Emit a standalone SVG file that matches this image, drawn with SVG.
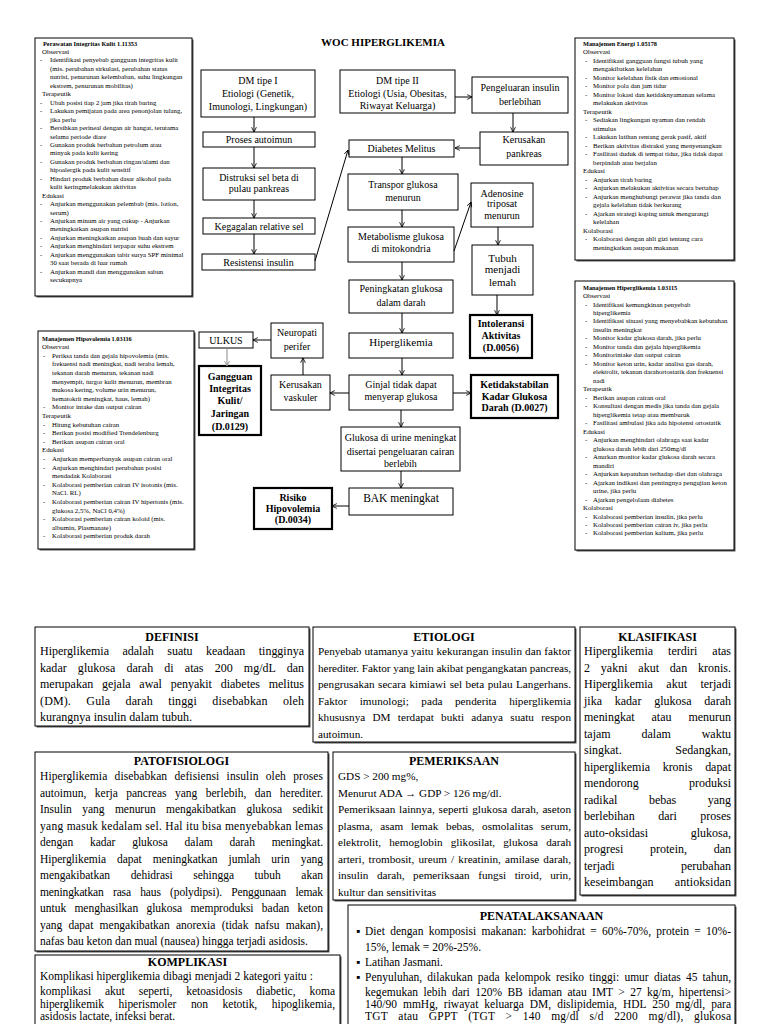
<svg xmlns="http://www.w3.org/2000/svg" width="768" height="1024" viewBox="0 0 768 1024">
<defs>
<style>
text{font-family:"Liberation Serif","Times New Roman","DejaVu Serif",serif;fill:#000}
.ti{font-size:11px;font-weight:bold;text-anchor:middle}
.s{font-size:6.8px}
.sh{font-size:6.3px;font-weight:bold}
.f{font-size:10px;text-anchor:middle}
.fl{font-size:11px;text-anchor:middle}
.fb{font-size:10px;font-weight:bold;text-anchor:middle}
.b{font-size:11.5px}
.m{font-size:11.2px}
.b12{font-size:12px}
.h{font-size:12px;font-weight:bold;text-anchor:middle}
.e{text-anchor:end}
.nb{fill:#fff;stroke:#000;stroke-width:1}
.tb{fill:#fff;stroke:#000;stroke-width:2.2}
.sd{fill:#555}
.c{fill:none;stroke:#000;stroke-width:1;marker-end:url(#ah)}
.cg{fill:none;stroke:#888;stroke-width:1;marker-end:url(#ahg)}
</style>
<marker id="ah" viewBox="0 0 10 10" refX="9" refY="5" markerWidth="6" markerHeight="6" markerUnits="userSpaceOnUse" orient="auto">
<path d="M1,1 L9,5 L1,9" fill="none" stroke="#000" stroke-width="1.4"/>
</marker>
<marker id="ahg" viewBox="0 0 10 10" refX="9" refY="5" markerWidth="6" markerHeight="6" markerUnits="userSpaceOnUse" orient="auto">
<path d="M1,1 L9,5 L1,9" fill="none" stroke="#888" stroke-width="1.4"/>
</marker>
</defs>
<rect width="768" height="1024" fill="#fff"/>
<text class="ti" x="383" y="46">WOC HIPERGLIKEMIA</text>

<g id="perawatan-kulit">
<rect class="sd" x="36.5" y="39.5" width="157" height="258"/>
<rect class="nb" x="35" y="38" width="157" height="258"/>
<text class="sh" x="43" y="45.5">Perawatan Integritas Kulit 1.11353</text>
<text class="s" x="42" y="54">Observasi</text>
<text class="s" y="62.4"><tspan x="40">-</tspan><tspan x="50">Identifikasi penyebab gangguan integritas kulit</tspan></text>
<text class="s" x="50" y="70.9">(mis. perubahan sirkulasi, perubahan status</text>
<text class="s" x="50" y="79.3">nutrisi, penurunan kelembaban, suhu lingkungan</text>
<text class="s" x="50" y="87.8">ekstrem, penurunan mobilitas)</text>
<text class="s" x="42" y="96.2">Terapeutik</text>
<text class="s" y="104.7"><tspan x="40">-</tspan><tspan x="50">Ubah posisi tiap 2 jam jika tirah baring</tspan></text>
<text class="s" y="113.1"><tspan x="40">-</tspan><tspan x="50">Lakukan pemijatan pada area penonjolan tulang,</tspan></text>
<text class="s" x="50" y="121.6">jika perlu</text>
<text class="s" y="130"><tspan x="40">-</tspan><tspan x="50">Bersihkan perineal dengan air hangat, terutama</tspan></text>
<text class="s" x="50" y="138.5">selama periode diare</text>
<text class="s" y="146.9"><tspan x="40">-</tspan><tspan x="50">Gunakan produk berbahan petrolum atau</tspan></text>
<text class="s" x="50" y="155.4">minyak pada kulit kering</text>
<text class="s" y="163.8"><tspan x="40">-</tspan><tspan x="50">Gunakan produk berbahan ringan/alami dan</tspan></text>
<text class="s" x="50" y="172.3">hipoalergik pada kulit sensitif</text>
<text class="s" y="180.7"><tspan x="40">-</tspan><tspan x="50">Hindari produk berbahan dasar alkohol pada</tspan></text>
<text class="s" x="50" y="189.2">kulit keringmelakukan aktivitas</text>
<text class="s" x="42" y="197.6">Edukasi</text>
<text class="s" y="206.1"><tspan x="40">-</tspan><tspan x="50">Anjurkan menggunakan pelembab (mis. lotion,</tspan></text>
<text class="s" x="50" y="214.5">serum)</text>
<text class="s" y="223"><tspan x="40">-</tspan><tspan x="50">Anjurkan minum air yang cukup - Anjurkan</tspan></text>
<text class="s" x="50" y="231.4">meningkatkan asupan nutrisi</text>
<text class="s" y="239.9"><tspan x="40">-</tspan><tspan x="50">Anjurkan meningkatkan asupan buah dan sayur</tspan></text>
<text class="s" y="248.3"><tspan x="40">-</tspan><tspan x="50">Anjurkan menghindari terpapar suhu ekstrem</tspan></text>
<text class="s" y="256.8"><tspan x="40">-</tspan><tspan x="50">Anjurkan menggunakan tabir surya SPF minimal</tspan></text>
<text class="s" x="50" y="265.2">30 saat berada di luar rumah</text>
<text class="s" y="273.7"><tspan x="40">-</tspan><tspan x="50">Anjurkan mandi dan menggunakan sabun</tspan></text>
<text class="s" x="50" y="282.1">secukupnya</text>
</g>

<g id="manajemen-energi">
<rect class="sd" x="576.5" y="39.5" width="159" height="222"/>
<rect class="nb" x="575" y="38" width="159" height="222"/>
<text class="sh" x="583" y="45.5">Manajemen Energi 1.05178</text>
<text class="s" x="583" y="54">Observasi</text>
<text class="s" y="62.5"><tspan x="585">-</tspan><tspan x="593">Identifikasi gangguan fungsi tubuh yang</tspan></text>
<text class="s" x="593" y="71">mengakibatkan kelelahan</text>
<text class="s" y="79.5"><tspan x="585">-</tspan><tspan x="593">Monitor kelelahan fisik dan emosional</tspan></text>
<text class="s" y="88"><tspan x="585">-</tspan><tspan x="593">Monitor pola dan jam tidur</tspan></text>
<text class="s" y="96.5"><tspan x="585">-</tspan><tspan x="593">Monitor lokasi dan ketidaknyamanan selama</tspan></text>
<text class="s" x="593" y="105">melakukan aktivitas</text>
<text class="s" x="583" y="113.5">Terapeutik</text>
<text class="s" y="122"><tspan x="585">-</tspan><tspan x="593">Sediakan lingkungan nyaman dan rendah</tspan></text>
<text class="s" x="593" y="130.5">stimulus</text>
<text class="s" y="139"><tspan x="585">-</tspan><tspan x="593">Lakukan latihan rentang gerak pasif, aktif</tspan></text>
<text class="s" y="147.5"><tspan x="585">-</tspan><tspan x="593">Berikan aktivitas distraksi yang menyenangkan</tspan></text>
<text class="s" y="156"><tspan x="585">-</tspan><tspan x="593">Fasilitasi duduk di tempat tidur, jika tidak dapat</tspan></text>
<text class="s" x="593" y="164.5">berpindah atau berjalan</text>
<text class="s" x="583" y="173">Edukasi</text>
<text class="s" y="181.5"><tspan x="585">-</tspan><tspan x="593">Anjurkan tirah baring</tspan></text>
<text class="s" y="190"><tspan x="585">-</tspan><tspan x="593">Anjurkan melakukan aktivitas secara bertahap</tspan></text>
<text class="s" y="198.5"><tspan x="585">-</tspan><tspan x="593">Anjurkan menghubungi perawat jika tanda dan</tspan></text>
<text class="s" x="593" y="207">gejala kelelahan tidak berkurang</text>
<text class="s" y="215.5"><tspan x="585">-</tspan><tspan x="593">Ajarkan strategi koping untuk mengurangi</tspan></text>
<text class="s" x="593" y="224">kelelahan</text>
<text class="s" x="583" y="232.5">Kolaborasi</text>
<text class="s" y="241"><tspan x="585">-</tspan><tspan x="593">Kolaborasi dengan ahli gizi tentang cara</tspan></text>
<text class="s" x="593" y="249.5">meningkatkan asupan makanan</text>
</g>

<g id="manajemen-hiperglikemia">
<rect class="sd" x="576.5" y="282.5" width="159" height="269"/>
<rect class="nb" x="575" y="281" width="159" height="269"/>
<text class="sh" x="583" y="289.5">Manajemen Hiperglikemia 1.03115</text>
<text class="s" x="583" y="298">Observasi</text>
<text class="s" y="306.5"><tspan x="585">-</tspan><tspan x="593">Identifikasi kemungkinan penyebab</tspan></text>
<text class="s" x="593" y="314.9">hiperglikemia</text>
<text class="s" y="323.4"><tspan x="585">-</tspan><tspan x="593">Identifikasi situasi yang menyebabkan kebutuhan</tspan></text>
<text class="s" x="593" y="331.9">insulin meningkat</text>
<text class="s" y="340.4"><tspan x="585">-</tspan><tspan x="593">Monitor kadar glukosa darah, jika perlu</tspan></text>
<text class="s" y="348.9"><tspan x="585">-</tspan><tspan x="593">Monitor tanda dan gejala hiperglikemia</tspan></text>
<text class="s" y="357.3"><tspan x="585">-</tspan><tspan x="593">Monitorintake dan output cairan</tspan></text>
<text class="s" y="365.8"><tspan x="585">-</tspan><tspan x="593">Monitor keton urin, kadar analisa gas darah,</tspan></text>
<text class="s" x="593" y="374.3">elektrolit, tekanan darahortostatik dan frekuensi</text>
<text class="s" x="593" y="382.8">nadi</text>
<text class="s" x="583" y="391.3">Terapeutik</text>
<text class="s" y="399.7"><tspan x="585">-</tspan><tspan x="593">Berikan asupan cairan oral</tspan></text>
<text class="s" y="408.2"><tspan x="585">-</tspan><tspan x="593">Konsultasi dengan medis jika tanda dan gejala</tspan></text>
<text class="s" x="593" y="416.7">hiperglikemia tetap atau memburuk</text>
<text class="s" y="425.2"><tspan x="585">-</tspan><tspan x="593">Fasilitasi ambulasi jika ada hipotensi ortostatik</tspan></text>
<text class="s" x="583" y="433.7">Edukasi</text>
<text class="s" y="442.1"><tspan x="585">-</tspan><tspan x="593">Anjurkan menghindari olahraga saat kadar</tspan></text>
<text class="s" x="593" y="450.6">glukosa darah lebih dari 250mg/dl</text>
<text class="s" y="459.1"><tspan x="585">-</tspan><tspan x="593">Anurkan monitor kadar glukosa darah secara</tspan></text>
<text class="s" x="593" y="467.6">mandiri</text>
<text class="s" y="476.1"><tspan x="585">-</tspan><tspan x="593">Anjurkan kepatuhan terhadap diet dan olahraga</tspan></text>
<text class="s" y="484.5"><tspan x="585">-</tspan><tspan x="593">Ajarkan indikasi dan pentingnya pengujian keton</tspan></text>
<text class="s" x="593" y="493">urine, jika perlu</text>
<text class="s" y="501.5"><tspan x="585">-</tspan><tspan x="593">Ajarkan pengelolaan diabetes</tspan></text>
<text class="s" x="583" y="510">Kolaborasi</text>
<text class="s" y="518.5"><tspan x="585">-</tspan><tspan x="593">Kolaborasi pemberian insulin, jika perlu</tspan></text>
<text class="s" y="526.9"><tspan x="585">-</tspan><tspan x="593">Kolaborasi pemberian cairan iv, jika perlu</tspan></text>
<text class="s" y="535.4"><tspan x="585">-</tspan><tspan x="593">Kolaborasi pemberian kalium, jika perlu</tspan></text>
</g>

<g id="manajemen-hipovolemia">
<rect class="sd" x="39.5" y="332.5" width="156" height="218"/>
<rect class="nb" x="38" y="331" width="156" height="218"/>
<text class="sh" x="42" y="340.5">Manajemen Hipovolemia 1.03116</text>
<text class="s" x="42" y="349.1">Observasi</text>
<text class="s" y="357.7"><tspan x="43">-</tspan><tspan x="52">Periksa tanda dan gejala hipovolemia (mis.</tspan></text>
<text class="s" x="52" y="366.3">frekuensi nadi meningkat, nadi teraba lemah,</text>
<text class="s" x="52" y="374.9">tekanan darah menurun, tekanan nadi</text>
<text class="s" x="52" y="383.5">menyempit, turgor kulit menurun, membran</text>
<text class="s" x="52" y="392.1">mukosa kering, volume urin menurun,</text>
<text class="s" x="52" y="400.7">hematokrit meningkat, haus, lemah)</text>
<text class="s" y="409.3"><tspan x="43">-</tspan><tspan x="52">Monitor intake dan output cairan</tspan></text>
<text class="s" x="42" y="417.9">Terapeutik</text>
<text class="s" y="426.5"><tspan x="43">-</tspan><tspan x="52">Hitung kebutuhan cairan</tspan></text>
<text class="s" y="435.1"><tspan x="43">-</tspan><tspan x="52">Berikan posisi modified Trendelenburg</tspan></text>
<text class="s" y="443.7"><tspan x="43">-</tspan><tspan x="52">Berikan asupan cairan oral</tspan></text>
<text class="s" x="42" y="452.3">Edukasi</text>
<text class="s" y="460.9"><tspan x="43">-</tspan><tspan x="52">Anjurkan memperbanyak asupan cairan oral</tspan></text>
<text class="s" y="469.5"><tspan x="43">-</tspan><tspan x="52">Anjurkan menghindari perubahan posisi</tspan></text>
<text class="s" x="52" y="478.1">mendadak Kolaborasi</text>
<text class="s" y="486.7"><tspan x="43">-</tspan><tspan x="52">Kolaborasi pemberian cairan IV isotonis (mis.</tspan></text>
<text class="s" x="52" y="495.3">NaCl. RL)</text>
<text class="s" y="503.9"><tspan x="43">-</tspan><tspan x="52">Kolaborasi pemberian cairan IV hipertonis (mis.</tspan></text>
<text class="s" x="52" y="512.5">glukosa 2,5%, NaCl 0,4%)</text>
<text class="s" y="521.1"><tspan x="43">-</tspan><tspan x="52">Kolaborasi pemberian cairan koloid (mis.</tspan></text>
<text class="s" x="52" y="529.7">albumin, Plasmanate)</text>
<text class="s" y="538.3"><tspan x="43">-</tspan><tspan x="52">Kolaborasi pemberian produk darah</tspan></text>
</g>

<g id="dm-tipe-1"><rect class="nb" x="201" y="70" width="114" height="47"/>
<text class="f" x="258" y="83.5">DM tipe I</text><text class="f" x="258" y="96.5">Etiologi (Genetik,</text><text class="f" x="258" y="109.5">Imunologi, Lingkungan)</text></g>
<g id="proses-autoimun"><rect class="nb" x="203" y="132" width="112" height="15"/><text class="f" x="259" y="143">Proses autoimun</text></g>
<g id="distruksi"><rect class="nb" x="203" y="168" width="112" height="32"/><text class="f" x="259" y="180.5">Distruksi sel beta di</text><text class="f" x="259" y="192">pulau pankreas</text></g>
<g id="kegagalan"><rect class="nb" x="203" y="218" width="112" height="16"/><text class="f" x="259" y="229.5">Kegagalan relative sel</text></g>
<g id="resistensi"><rect class="nb" x="202" y="254" width="113" height="16"/><text class="f" x="258.5" y="265.5">Resistensi insulin</text></g>
<g id="dm-tipe-2"><rect class="nb" x="340" y="70" width="115" height="43"/>
<text class="f" x="397.5" y="83.5">DM tipe II</text><text class="f" x="397.5" y="96.5">Etiologi (Usia, Obesitas,</text><text class="f" x="397.5" y="108.5">Riwayat Keluarga)</text></g>
<g id="pengeluaran"><rect class="nb" x="472" y="77" width="96" height="36"/><text class="f" x="520" y="90.5">Pengeluaran insulin</text><text class="f" x="520" y="104.5">berlebihan</text></g>
<g id="kerusakan-pankreas"><rect class="nb" x="480" y="132" width="88" height="33"/><text class="f" x="524" y="142.5">Kerusakan</text><text class="f" x="524" y="156.5">pankreas</text></g>
<g id="diabetes-melitus"><rect class="nb" x="349" y="140" width="105" height="17"/><text class="f" x="401.5" y="152">Diabetes Melitus</text></g>
<g id="transpor"><rect class="nb" x="348" y="174" width="110" height="36"/><text class="f" x="403" y="187.5">Transpor glukosa</text><text class="f" x="403" y="200.5">menurun</text></g>
<g id="metabolisme"><rect class="nb" x="348" y="227" width="106" height="35"/><text class="f" x="401" y="239.5">Metabolisme glukosa</text><text class="f" x="401" y="251.5">di mitokondria</text></g>
<g id="adenosine"><rect class="nb" x="471" y="183" width="62" height="44"/><text class="f" x="502" y="196.5">Adenosine</text><text class="f" x="502" y="207">triposat</text><text class="f" x="502" y="218.5">menurun</text></g>
<g id="tubuh-lemah"><rect class="nb" x="472" y="245" width="61" height="50"/><text class="fl" x="502.5" y="262">Tubuh</text><text class="fl" x="502.5" y="273">menjadi</text><text class="fl" x="502.5" y="286">lemah</text></g>
<g id="intoleransi"><rect class="tb" x="470" y="315" width="62" height="43"/><text class="fb" x="501" y="326.5">Intoleransi</text><text class="fb" x="501" y="338.5">Aktivitas</text><text class="fb" x="501" y="350.5">(D.0056)</text></g>
<g id="peningkatan"><rect class="nb" x="349" y="280" width="104" height="33"/><text class="f" x="401" y="291.5">Peningkatan glukosa</text><text class="f" x="401" y="305.5">dalam darah</text></g>
<g id="hiperglikemia"><rect class="nb" x="349" y="333" width="104" height="25"/><text class="fl" x="401" y="345.5">Hiperglikemia</text></g>
<g id="ginjal"><rect class="nb" x="349" y="375" width="104" height="35"/><text class="f" x="401" y="387.5">Ginjal tidak dapat</text><text class="f" x="401" y="399.5">menyerap glukosa</text></g>
<g id="ketidakstabilan"><rect class="tb" x="471" y="375" width="87" height="43"/><text class="fb" x="514.5" y="387.5">Ketidakstabilan</text><text class="fb" x="514.5" y="399.5">Kadar Glukosa</text><text class="fb" x="514.5" y="410.5">Darah (D.0027)</text></g>
<g id="kerusakan-vaskuler"><rect class="nb" x="271" y="375" width="59" height="35"/><text class="f" x="300.5" y="387.5">Kerusakan</text><text class="f" x="300.5" y="400.5">vaskuler</text></g>
<g id="neuropati"><rect class="nb" x="271" y="323" width="52" height="35"/><text class="f" x="297" y="335.5">Neuropati</text><text class="f" x="297" y="349.5">perifer</text></g>
<g id="ulkus"><rect class="nb" x="199" y="332" width="54" height="16"/><text class="f" x="226" y="343.5">ULKUS</text></g>
<g id="gangguan-integritas"><rect class="tb" x="199" y="366" width="62" height="69"/><text class="fb" x="230" y="379.5">Gangguan</text><text class="fb" x="230" y="391.5">Integritas</text><text class="fb" x="230" y="403.5">Kulit/</text><text class="fb" x="230" y="416.5">Jaringan</text><text class="fb" x="230" y="429.5">(D.0129)</text></g>
<g id="glukosa-urine"><rect class="nb" x="341" y="427" width="119" height="44"/><text class="f" x="400.5" y="440.5">Glukosa di urine meningkat</text><text class="f" x="400.5" y="454.5">disertai pengeluaran cairan</text><text class="f" x="400.5" y="466.5">berlebih</text></g>
<g id="bak"><rect class="nb" x="349" y="488" width="104" height="27"/><text class="fl" x="401" y="502" style="font-size:11.5px">BAK meningkat</text></g>
<g id="risiko-hipovolemia"><rect class="tb" x="254" y="488" width="78" height="41"/><text class="fb" x="293" y="500.5">Risiko</text><text class="fb" x="293" y="511.5">Hipovolemia</text><text class="fb" x="293" y="522.5">(D.0034)</text></g>

<g id="connectors">
<path class="c" d="M254,117V132"/>
<path class="c" d="M254,147V168"/>
<path class="c" d="M254,200V218"/>
<path class="c" d="M254,234V254"/>
<path class="c" d="M315,261L348,150"/>
<path class="c" d="M455,97H472"/>
<path class="c" d="M513,113V132"/>
<path class="c" d="M480,148H455"/>
<path class="c" d="M402,157V174"/>
<path class="c" d="M402,210V227"/>
<path class="c" d="M454,251L471,202"/>
<path class="c" d="M498,227V245"/>
<path class="c" d="M402,262V280"/>
<path class="c" d="M497,295V315"/>
<path class="c" d="M402,313V333"/>
<path class="c" d="M402,358V375"/>
<path class="c" d="M453,393H471"/>
<path class="c" d="M349,393H330"/>
<path class="c" d="M303,375V358"/>
<path class="c" d="M271,340H253"/>
<path class="cg" d="M227,348V366"/>
<path class="c" d="M401,410V427"/>
<path class="c" d="M401,471V488"/>
<path class="c" d="M349,506H332"/>
</g>

<g id="definisi">
<rect class="sd" x="36.5" y="628.5" width="274" height="99"/>
<rect class="nb" x="35" y="627" width="274" height="99"/>
<text class="h" x="172" y="641">DEFINISI</text>
<text class="b12" x="40" y="655" textLength="264" lengthAdjust="spacing" style="word-spacing:10.5px">Hiperglikemia adalah suatu keadaan tingginya</text>
<text class="b12" x="40" y="671.5" textLength="264" lengthAdjust="spacing" style="word-spacing:8.1px">kadar glukosa darah di atas 200 mg/dL dan</text>
<text class="b12" x="40" y="688" textLength="264" lengthAdjust="spacing" style="word-spacing:5.8px">merupakan gejala awal penyakit diabetes melitus</text>
<text class="b12" x="40" y="704.5" textLength="264" lengthAdjust="spacing" style="word-spacing:12.2px">(DM). Gula darah tinggi disebabkan oleh</text>
<text class="b12" x="40" y="721">kurangnya insulin dalam tubuh.</text>
</g>

<g id="etiologi">
<rect class="sd" x="314.5" y="628.5" width="262" height="115"/>
<rect class="nb" x="313" y="627" width="262" height="115"/>
<text class="h" x="444" y="641">ETIOLOGI</text>
<text class="m" x="318" y="655" textLength="253" lengthAdjust="spacing" style="word-spacing:0.3px">Penyebab utamanya yaitu kekurangan insulin dan faktor</text>
<text class="m" x="318" y="671.5" textLength="253" lengthAdjust="spacing">herediter. Faktor yang lain akibat pengangkatan pancreas,</text>
<text class="m" x="318" y="688" textLength="253" lengthAdjust="spacing" style="word-spacing:0.7px">pengrusakan secara kimiawi sel beta pulau Langerhans.</text>
<text class="m" x="318" y="704.5" textLength="253" lengthAdjust="spacing" style="word-spacing:9.8px">Faktor imunologi; pada penderita hiperglikemia</text>
<text class="m" x="318" y="721" textLength="253" lengthAdjust="spacing" style="word-spacing:4.5px">khususnya DM terdapat bukti adanya suatu respon</text>
<text class="m" x="318" y="737.5">autoimun.</text>
</g>

<g id="klasifikasi">
<rect class="sd" x="581.5" y="628.5" width="155" height="268"/>
<rect class="nb" x="580" y="627" width="155" height="268"/>
<text class="h" x="657.5" y="641">KLASIFIKASI</text>
<text class="b12" x="584" y="655" textLength="147" lengthAdjust="spacing" style="word-spacing:12px">Hiperglikemia terdiri atas</text>
<text class="b12" x="584" y="671.5" textLength="147" lengthAdjust="spacing" style="word-spacing:7.8px">2 yakni akut dan kronis.</text>
<text class="b12" x="584" y="688" textLength="147" lengthAdjust="spacing" style="word-spacing:10.5px">Hiperglikemia akut terjadi</text>
<text class="b12" x="584" y="704.5" textLength="147" lengthAdjust="spacing" style="word-spacing:9.8px">jika kadar glukosa darah</text>
<text class="b12" x="584" y="721" textLength="147" lengthAdjust="spacing" style="word-spacing:14px">meningkat atau menurun</text>
<text class="b12" y="737.5"><tspan x="584">tajam</tspan><tspan x="641.5">dalam</tspan></text><text class="b12 e" x="731" y="737.5">waktu</text>
<text class="b12" x="584" y="754">singkat.</text><text class="b12 e" x="731" y="754">Sedangkan,</text>
<text class="b12" x="584" y="770.5" textLength="147" lengthAdjust="spacing" style="word-spacing:9.7px">hiperglikemia kronis dapat</text>
<text class="b12" x="584" y="787">mendorong</text><text class="b12 e" x="731" y="787">produksi</text>
<text class="b12" y="803.5"><tspan x="584">radikal</tspan><tspan x="648.9">bebas</tspan></text><text class="b12 e" x="731" y="803.5">yang</text>
<text class="b12" y="820"><tspan x="584">berlebihan</tspan><tspan x="658.2">dari</tspan></text><text class="b12 e" x="731" y="820">proses</text>
<text class="b12" x="584" y="836.5">auto-oksidasi</text><text class="b12 e" x="731" y="836.5">glukosa,</text>
<text class="b12" y="853"><tspan x="584">progresi</tspan><tspan x="650">protein,</tspan></text><text class="b12 e" x="731" y="853">dan</text>
<text class="b12" x="584" y="869.5">terjadi</text><text class="b12 e" x="731" y="869.5">perubahan</text>
<text class="b12" x="584" y="886" textLength="147" lengthAdjust="spacing" style="word-spacing:18px">keseimbangan antioksidan</text>
</g>

<g id="patofisiologi">
<rect class="sd" x="36.5" y="753.5" width="293" height="199"/>
<rect class="nb" x="35" y="752" width="293" height="199"/>
<text class="h" x="181.5" y="765">PATOFISIOLOGI</text>
<text class="b" x="40" y="780" textLength="283" lengthAdjust="spacing" style="word-spacing:4.3px">Hiperglikemia disebabkan defisiensi insulin oleh proses</text>
<text class="b" x="40" y="796.5" textLength="283" lengthAdjust="spacing" style="word-spacing:5.5px">autoimun, kerja pancreas yang berlebih, dan herediter.</text>
<text class="b" x="40" y="813" textLength="283" lengthAdjust="spacing" style="word-spacing:7.6px">Insulin yang menurun mengakibatkan glukosa sedikit</text>
<text class="b" x="40" y="829.5" textLength="283" lengthAdjust="spacing">yang masuk kedalam sel. Hal itu bisa menyebabkan lemas</text>
<text class="b" x="40" y="846" textLength="283" lengthAdjust="spacing" style="word-spacing:13.9px">dengan kadar glukosa dalam darah meningkat.</text>
<text class="b" x="40" y="862.5" textLength="283" lengthAdjust="spacing" style="word-spacing:8.1px">Hiperglikemia dapat meningkatkan jumlah urin yang</text>
<text class="b" x="40" y="879" textLength="283" lengthAdjust="spacing" style="word-spacing:17.8px">mengakibatkan dehidrasi sehingga tubuh akan</text>
<text class="b" x="40" y="895.5" textLength="283" lengthAdjust="spacing" style="word-spacing:6.5px">meningkatkan rasa haus (polydipsi). Penggunaan lemak</text>
<text class="b" x="40" y="912" textLength="283" lengthAdjust="spacing" style="word-spacing:5.4px">untuk menghasilkan glukosa memproduksi badan keton</text>
<text class="b" x="40" y="928.5" textLength="283" lengthAdjust="spacing" style="word-spacing:3.4px">yang dapat mengakibatkan anorexia (tidak nafsu makan),</text>
<text class="b" x="40" y="945">nafas bau keton dan mual (nausea) hingga terjadi asidosis.</text>
</g>

<g id="pemeriksaan">
<rect class="sd" x="334.5" y="753.5" width="242" height="148"/>
<rect class="nb" x="333" y="752" width="242" height="148"/>
<text class="h" x="454" y="765">PEMERIKSAAN</text>
<text class="m" x="338" y="780">GDS &gt; 200 mg%,</text>
<text class="m" x="338" y="796.5">Menurut ADA → GDP &gt; 126 mg/dl.</text>
<text class="m" x="338" y="813" textLength="233" lengthAdjust="spacing" style="word-spacing:1px">Pemeriksaan lainnya, seperti glukosa darah, aseton</text>
<text class="m" x="338" y="829.5" textLength="233" lengthAdjust="spacing" style="word-spacing:4.9px">plasma, asam lemak bebas, osmolalitas serum,</text>
<text class="m" x="338" y="846" textLength="233" lengthAdjust="spacing" style="word-spacing:5.4px">elektrolit, hemoglobin glikosilat, glukosa darah</text>
<text class="m" x="338" y="862.5" textLength="233" lengthAdjust="spacing" style="word-spacing:1.3px">arteri, trombosit, ureum / kreatinin, amilase darah,</text>
<text class="m" x="338" y="879" textLength="233" lengthAdjust="spacing" style="word-spacing:5.7px">insulin darah, pemeriksaan fungsi tiroid, urin,</text>
<text class="m" x="338" y="895.5">kultur dan sensitivitas</text>
</g>

<g id="penatalaksanaan">
<rect class="sd" x="349.5" y="906.5" width="387" height="130"/>
<rect class="nb" x="348" y="905" width="387" height="130"/>
<text class="h" x="541.5" y="920">PENATALAKSANAAN</text>
<text class="b" x="356" y="935">▪</text>
<text class="b" x="365" y="935" textLength="366" lengthAdjust="spacing" style="word-spacing:2.3px">Diet dengan komposisi makanan: karbohidrat = 60%-70%, protein = 10%-</text>
<text class="b" x="365" y="950.5">15%, lemak = 20%-25%.</text>
<text class="b" x="356" y="966">▪</text>
<text class="b" x="365" y="966">Latihan Jasmani.</text>
<text class="b" x="356" y="981">▪</text>
<text class="b" x="365" y="981" textLength="366" lengthAdjust="spacing" style="word-spacing:2.3px">Penyuluhan, dilakukan pada kelompok resiko tinggi: umur diatas 45 tahun,</text>
<text class="b" x="365" y="995.5" textLength="366" lengthAdjust="spacing" style="word-spacing:2.5px">kegemukan lebih dari 120% BB idaman atau IMT &gt; 27 kg/m, hipertensi&gt;</text>
<text class="b" x="365" y="1008" textLength="366" lengthAdjust="spacing" style="word-spacing:3.1px">140/90 mmHg, riwayat keluarga DM, dislipidemia, HDL 250 mg/dl, para</text>
<text class="b" x="365" y="1020" textLength="366" lengthAdjust="spacing" style="word-spacing:7.5px">TGT atau GPPT (TGT &gt; 140 mg/dl s/d 2200 mg/dl), glukosa</text>
</g>

<g id="komplikasi">
<rect class="sd" x="36.5" y="956.5" width="305" height="80"/>
<rect class="nb" x="35" y="955" width="305" height="80"/>
<text class="h" x="187.5" y="966">KOMPLIKASI</text>
<text class="b" x="40" y="980">Komplikasi hiperglikemia dibagi menjadi 2 kategori yaitu :</text>
<text class="b" x="40" y="994.5" textLength="295" lengthAdjust="spacing" style="word-spacing:11px">komplikasi akut seperti, ketoasidosis diabetic, koma</text>
<text class="b" x="40" y="1008" textLength="295" lengthAdjust="spacing" style="word-spacing:11.7px">hiperglikemik hiperismoler non ketotik, hipoglikemia,</text>
<text class="b" x="40" y="1020">asidosis lactate, infeksi berat.</text>
</g>
</svg>
